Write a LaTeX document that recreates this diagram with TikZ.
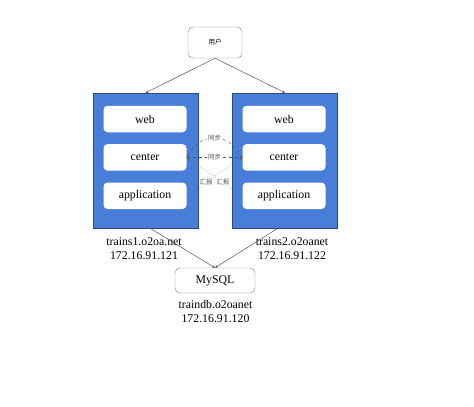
\documentclass[tikz,border=0pt]{standalone}
\usepackage{fontspec}
\setmainfont{Liberation Serif}
\newfontfamily\cjk{Noto Sans CJK SC}
\usetikzlibrary{arrows.meta, positioning}
\definecolor{hostblue}{RGB}{72,126,218}
\definecolor{linegray}{RGB}{85,85,85}

\begin{document}
\begin{tikzpicture}[
    x=1pt, y=-1pt,
    node distance=11.5pt,
    >={Stealth[length=3pt,width=2.5pt]},
    font=\fontsize{11.8}{13}\selectfont,
    host/.style={rectangle, draw=hostblue!60!black, fill=hostblue, minimum width=105pt, minimum height=135pt},
    part/.style={rectangle, fill=white, rounded corners=4pt, minimum width=83pt, minimum height=26.5pt, inner sep=0pt},
    box/.style={rectangle, draw=gray, fill=white, rounded corners=5pt, inner sep=0pt},
    tag/.style={fill=white, inner sep=1pt, font=\cjk\fontsize{6.5}{7}\selectfont},
    addr/.style={align=center, font=\fontsize{11.8}{14}\selectfont},
    flow/.style={->, draw=linegray, line width=0.5pt}
  ]
    \useasboundingbox (0,0) rectangle (474,407);

    \node[box, minimum width=54pt, minimum height=31pt, font=\cjk\fontsize{6.5}{7}\selectfont] (user) at (215,42.5) {用户};

    % two servers
    \node[host] (trainsone) at (145.5,160.5) {};
    \node[host] (trainstwo) at (285,160.5) {};

    \node[part] (webone) at (145,119) {web};
    \node[part, below=of webone] (centerone) {center};
    \node[part, below=of centerone] (appone) {application};

    \node[part] (webtwo) at (284,119) {web};
    \node[part, below=of webtwo] (centertwo) {center};
    \node[part, below=of centertwo] (apptwo) {application};

    \node[addr] (addrone) at (144,249) {trains1.o2oa.net\\172.16.91.121};
    \node[addr] (addrtwo) at (292,249) {trains2.o2oanet\\172.16.91.122};

    % database
    \node[box, minimum width=80pt, minimum height=25pt] (mysql) at (215,280.5) {MySQL};
    \node[addr] (addrdb) at (215.5,311) {traindb.o2oanet\\172.16.91.120};

    \draw[flow] (user.south) -- (trainsone.north);
    \draw[flow] (user.south) -- (trainstwo.north);
    \draw[flow] ([xshift=4.5pt]trainsone.south) -- (mysql.north);
    \draw[flow] ([xshift=-7pt]trainstwo.south) -- (mysql.north);

    \draw[->, dashed, linegray, line width=0.4pt] (centerone.east) -- node[tag] {同步} (centertwo.west);
    \draw[->, dashed, linegray, line width=0.4pt] (centertwo.west) .. controls +(-14,-26) and +(14,-26) .. node[tag] {同步} (centerone.east);

    \draw[->, dotted, linegray, line width=0.5pt] (appone.east) -- node[tag, pos=0.35] {汇报} (centertwo.west);
    \draw[->, dotted, linegray, line width=0.5pt] (apptwo.west) -- node[tag, pos=0.35] {汇报} (centerone.east);
  \end{tikzpicture}
\end{document}
